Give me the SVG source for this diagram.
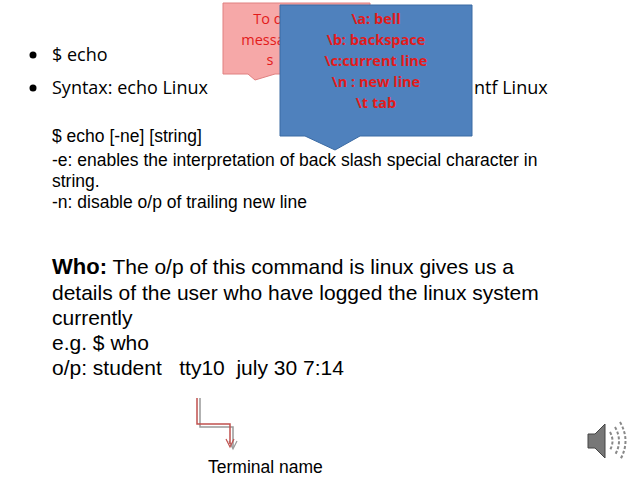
<svg xmlns="http://www.w3.org/2000/svg" width="638" height="478" viewBox="0 0 638 478">
<style>
.b{font-family:"Open Sans","Liberation Sans",sans-serif;font-size:18px;fill:#000}
.t{font-family:"Liberation Sans",Arial,sans-serif;font-size:17.5px;fill:#000}
.w{font-family:"Liberation Sans",Arial,sans-serif;font-size:21px;fill:#000;white-space:pre}
.r{font-family:"Open Sans","Liberation Sans",sans-serif;font-size:14.5px;fill:#e31b1b;font-weight:bold;text-anchor:middle}
.p{font-family:"Open Sans","Liberation Sans",sans-serif;font-size:14.5px;fill:#e31b1b;text-anchor:middle}
</style>
<rect width="638" height="478" fill="#fff"/>
<g id="bullets">
<circle cx="33" cy="55" r="3.5" fill="#000"/><text class="b" x="52" y="61">$ echo</text>
<circle cx="33" cy="88" r="3.5" fill="#000"/><text class="b" x="52" y="94">Syntax: echo Linux</text>
<text class="b" x="474" y="94">ntf Linux</text>
</g>
<g id="echo-desc">
<text class="t" x="52" y="142">$ echo [-ne] [string]</text>
<text class="t" x="52" y="166">-e: enables the interpretation of back slash special character in</text>
<text class="t" x="52" y="187">string.</text>
<text class="t" x="52" y="208">-n: disable o/p of trailing new line</text>
</g>
<g id="who">
<text class="w" x="52" y="274"><tspan font-weight="bold" font-size="22">Who:</tspan> The o/p of this command is linux gives us a</text>
<text class="w" x="52" y="300">details of the user who have logged the linux system</text>
<text class="w" x="52" y="325">currently</text>
<text class="w" x="52" y="350">e.g. $ who</text>
<text class="w" x="52" y="375">o/p: student   tty10  july 30 7:14</text>
</g>
<g id="pink-callout">
<path d="M223,3 H370 V74 H275 L255,80 L248,74 H223 Z" fill="#f6a8a8" stroke="#e08080" stroke-width="1"/>
<text class="p" x="268" y="24">To d</text>
<text class="p" x="263" y="45">messa</text>
<text class="p" x="270" y="65">s</text>
</g>
<g id="blue-callout">
<path d="M280,5 H472 V136 H360 L335,150 L305,136 H280 Z" fill="#4f81bd" stroke="#3a6aa3" stroke-width="1"/>
<text class="r" x="376" y="24">\a: bell</text>
<text class="r" x="376" y="45">\b: backspace</text>
<text class="r" x="376" y="66">\c:current line</text>
<text class="r" x="376" y="87">\n : new line</text>
<text class="r" x="376" y="108">\t tab</text>
</g>
<g id="connectors">
<polyline points="200,398 200,427 233,427 233,448" fill="none" stroke="#999" stroke-width="1.5"/>
<polyline points="229,441 233,449 237,441" fill="none" stroke="#999" stroke-width="1.2"/>
<polyline points="197,398 197,424 230,424 230,444" fill="none" stroke="#c0504d" stroke-width="1.5"/>
<polyline points="226,439 230,447 234,439" fill="none" stroke="#c0504d" stroke-width="1.2"/>
</g>
<g id="terminal-label"><text class="t" x="208" y="473" font-size="16">Terminal name</text></g>
<g id="speaker">
<path d="M588,434 H595 L605,424 V458 L595,448 H588 Z" fill="#777" stroke="#444"/>
<path d="M610,432 Q615,441 610,450" fill="none" stroke="#888" stroke-width="2" stroke-dasharray="3 2"/>
<path d="M615,427 Q623,441 615,455" fill="none" stroke="#888" stroke-width="2" stroke-dasharray="3 2"/>
<path d="M620,422 Q631,441 620,460" fill="none" stroke="#888" stroke-width="2" stroke-dasharray="3 2"/>
</g>
</svg>
